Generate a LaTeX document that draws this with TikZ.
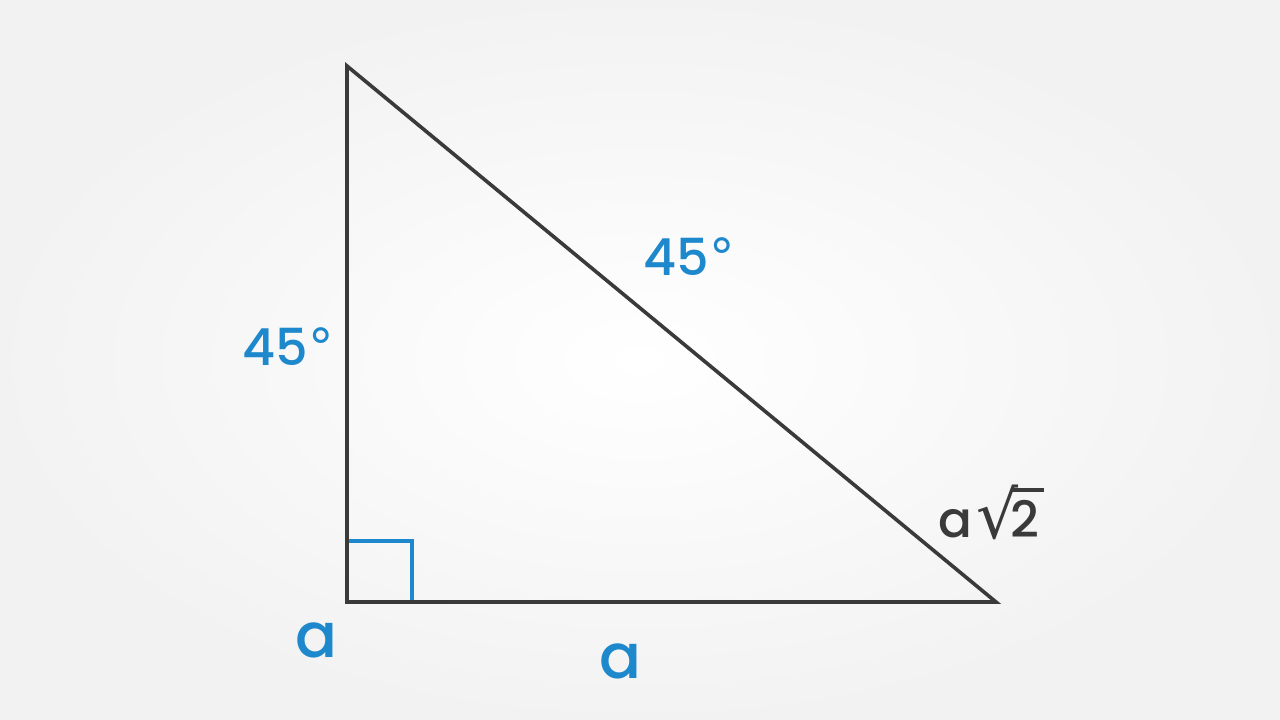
\documentclass[tikz,border=0pt]{standalone}
\usepackage{fontspec}
\setmainfont{Poppins}[UprightFont=*-Medium]
\newfontfamily\symfont{DejaVu Sans}
\usetikzlibrary{positioning}
\definecolor{angleblue}{RGB}{30,136,204}
\definecolor{edgegray}{RGB}{58,58,58}
\newcommand{\degsign}{{\symfont °}}
\tikzset{side/.style={draw=edgegray, line width=3.6pt, line join=miter}}
\tikzset{bluelabel/.style={text=angleblue, inner sep=0pt, anchor=base, font=\fontsize{51}{56}\selectfont}}
\tikzset{sidelabel/.style={bluelabel, font=\fontsize{62}{66}\selectfont}}
\tikzset{graylabel/.style={text=edgegray, inner sep=0pt, anchor=base, font=\fontsize{50}{52}\selectfont}}

\begin{document}
\begin{tikzpicture}[x=1pt, y=-1pt]
            \shade[inner color=white, outer color=black!5] (0,0) rectangle (1280,720);
            \useasboundingbox (0,0) rectangle (1280,720);
            \coordinate (top) at (347,66);
            \coordinate (corner) at (347,602);
            \coordinate (tip) at (996,602);
            \coordinate (sq1) at (347,541);
            \coordinate (sq2) at (412,541);
            \coordinate (sq3) at (412,602);
            \draw[draw=angleblue, line width=3.4pt] (sq1) -- (sq2) -- (sq3);
            \draw[side] (top) -- (corner) -- (tip) -- cycle;
            \node[bluelabel] (lefttop) at (288,365) {45\degsign};
            \node[bluelabel] (hyptop) at (689,275) {45\degsign};
            \node[sidelabel] (leftside) at (317,657) {a};
            \node[sidelabel] (baseside) at (621,678) {a};
            \node[graylabel] (hypside) at (989,537) {a\kern0.08em\raisebox{-0.02em}{\fontsize{66}{66}\symfont √}\kern-0.15em\rlap{\rule[0.91em]{0.66em}{3.6pt}}2};
        \end{tikzpicture}
\end{document}
